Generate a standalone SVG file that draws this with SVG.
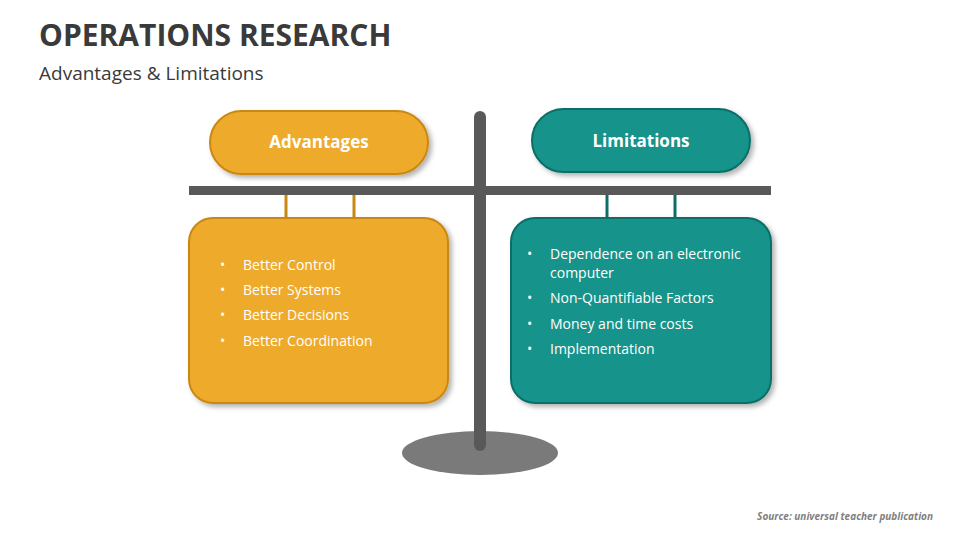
<svg xmlns="http://www.w3.org/2000/svg" width="960" height="540" viewBox="0 0 960 540">
<defs>
<filter id="sh" x="-10%" y="-10%" width="130%" height="130%"><feDropShadow dx="3" dy="3" stdDeviation="2.5" flood-color="#000" flood-opacity="0.3"/></filter>
</defs>
<style>
text{font-family:"Open Sans","Liberation Sans",sans-serif}
.o{fill:#EEAA2B;stroke:#C98812;stroke-width:2}
.t{fill:#13938A;stroke:#0E6E67;stroke-width:2}
.h{fill:#fff;font-weight:bold;font-size:17px;text-anchor:middle}
.b{fill:#fff;font-size:14px}
</style>
<rect width="960" height="540" fill="#fff"/>
<text x="39" y="46" font-size="30" font-weight="bold" fill="#3a3a3a">OPERATIONS RESEARCH</text>
<text x="39" y="80" font-size="19" fill="#3a3a3a">Advantages &amp; Limitations</text>
<g id="stand">
<ellipse cx="480" cy="453" rx="78" ry="22" fill="#7a7a7a"/>
<rect x="474" y="111" width="12" height="340" rx="6" fill="#595959"/>
<rect x="189" y="186" width="582" height="9" fill="#595959"/>
</g>
<g id="connectors">
<line x1="286" y1="195" x2="286" y2="218" stroke="#C98812" stroke-width="3"/>
<line x1="354" y1="195" x2="354" y2="218" stroke="#C98812" stroke-width="3"/>
<line x1="607" y1="195" x2="607" y2="218" stroke="#0E6E67" stroke-width="3"/>
<line x1="675" y1="195" x2="675" y2="218" stroke="#0E6E67" stroke-width="3"/>
</g>
<g id="adv-head"><rect class="o" x="210" y="111" width="218" height="63" rx="31.5" filter="url(#sh)"/><text class="h" x="319" y="148">Advantages</text></g>
<g id="lim-head"><rect class="t" x="532" y="109" width="218" height="63" rx="31.5" filter="url(#sh)"/><text class="h" x="641" y="147">Limitations</text></g>
<g id="adv-box"><rect class="o" x="189" y="218" width="259" height="185" rx="24" filter="url(#sh)"/>
<g class="b"><text class="b" x="220" y="270">•</text><text class="b" x="243" y="270">Better Control</text>
<text class="b" x="220" y="295">•</text><text class="b" x="243" y="295">Better Systems</text>
<text class="b" x="220" y="320">•</text><text class="b" x="243" y="320">Better Decisions</text>
<text class="b" x="220" y="346">•</text><text class="b" x="243" y="346">Better Coordination</text></g></g>
<g id="lim-box"><rect class="t" x="511" y="218" width="260" height="185" rx="24" filter="url(#sh)"/>
<text class="b" x="527" y="259">•</text><text class="b" x="550" y="259">Dependence on an electronic</text>
<text class="b" x="550" y="278">computer</text>
<text class="b" x="527" y="303">•</text><text class="b" x="550" y="303">Non-Quantifiable Factors</text>
<text class="b" x="527" y="329">•</text><text class="b" x="550" y="329">Money and time costs</text>
<text class="b" x="527" y="354">•</text><text class="b" x="550" y="354">Implementation</text></g>
<text x="933" y="520" font-size="10" font-style="italic" font-weight="bold" fill="#7f7f7f" text-anchor="end">Source: universal teacher publication</text>
</svg>
